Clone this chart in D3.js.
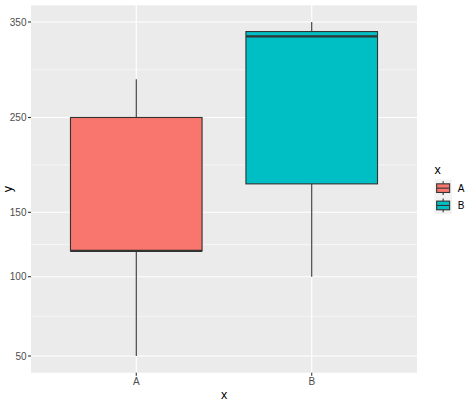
<!DOCTYPE html>
<html>
<head>
<meta charset="utf-8">
<script src="https://cdn.jsdelivr.net/npm/d3@7"></script>
<style>
  body { margin: 0; background: #fff; }
  svg { display: block; font-family: "Liberation Sans", Arial, Helvetica, sans-serif; }
</style>
</head>
<body>
<svg id="chart" width="474" height="404"></svg>
<script>
// ---- data ----
const categories = ["A", "B"];
const fills = ["#F8766D", "#00BFC4"];
const whiskerLow = [50, 100];
const hingeLow = [120, 180];
const medians = [120, 335];
const hingeHigh = [250, 340];
const whiskerHigh = [290, 350];
const yTickValues = [50, 100, 150, 250, 350];
const yTickLabels = ["50", "100", "150", "250", "350"];
// relative position of each tick value along the (transformed) axis
const yTickPositions = [0, 0.2374, 0.4302, 0.7141, 1];

// ---- layout ----
const W = 474, H = 404;
const panel = { left: 31, right: 417, top: 5.3, bottom: 372.7 };

const svg = d3.select("#chart");

// transform: value -> axis unit (piecewise), then axis unit -> pixel (with 5% expansion)
const trans = d3.scaleLinear().domain(yTickValues).range(yTickPositions);
const yPix = d3.scaleLinear().domain([-0.05, 1.05]).range([panel.bottom, panel.top]);
const y = v => yPix(trans(v));

// discrete expansion 0.6 of a unit
const xc = d3.scalePoint().domain(categories).range([panel.left, panel.right]).padding(0.6);
const step = xc.step();

// panel background
svg.append("rect").attr("x", panel.left).attr("y", panel.top)
  .attr("width", panel.right - panel.left).attr("height", panel.bottom - panel.top)
  .attr("fill", "#EBEBEB");

// minor gridlines (midpoints in transformed space)
const minorT = [];
for (let i = 0; i < yTickPositions.length - 1; i++) minorT.push((yTickPositions[i] + yTickPositions[i + 1]) / 2);
svg.append("g").selectAll("line").data(minorT).join("line")
  .attr("x1", panel.left).attr("x2", panel.right)
  .attr("y1", d => yPix(d)).attr("y2", d => yPix(d))
  .attr("stroke", "#fff").attr("stroke-width", 0.55);

// major gridlines
svg.append("g").selectAll("line").data(yTickValues).join("line")
  .attr("x1", panel.left).attr("x2", panel.right)
  .attr("y1", d => y(d)).attr("y2", d => y(d))
  .attr("stroke", "#fff").attr("stroke-width", 1.1);
svg.append("g").selectAll("line").data(categories).join("line")
  .attr("x1", d => xc(d)).attr("x2", d => xc(d))
  .attr("y1", panel.top).attr("y2", panel.bottom)
  .attr("stroke", "#fff").attr("stroke-width", 1.1);

// boxes
const boxW = step * 0.75;
const stroke = "#333333";
const g = svg.append("g");
categories.forEach((c, i) => {
  const cx = xc(c);
  g.append("line").attr("x1", cx).attr("x2", cx)
    .attr("y1", y(hingeHigh[i])).attr("y2", y(whiskerHigh[i]))
    .attr("stroke", stroke).attr("stroke-width", 1.1);
  g.append("line").attr("x1", cx).attr("x2", cx)
    .attr("y1", y(hingeLow[i])).attr("y2", y(whiskerLow[i]))
    .attr("stroke", stroke).attr("stroke-width", 1.1);
  g.append("rect").attr("x", cx - boxW / 2).attr("width", boxW)
    .attr("y", y(hingeHigh[i])).attr("height", y(hingeLow[i]) - y(hingeHigh[i]))
    .attr("fill", fills[i]).attr("stroke", stroke).attr("stroke-width", 1.1);
  g.append("line").attr("x1", cx - boxW / 2).attr("x2", cx + boxW / 2)
    .attr("y1", y(medians[i])).attr("y2", y(medians[i]))
    .attr("stroke", stroke).attr("stroke-width", 2.2);
});

// y axis
const tickCol = "#333333", labCol = "#4D4D4D";
const yAx = svg.append("g");
yTickValues.forEach((v, i) => {
  yAx.append("line").attr("x1", panel.left - 3).attr("x2", panel.left)
    .attr("y1", y(v)).attr("y2", y(v)).attr("stroke", tickCol).attr("stroke-width", 1.1);
  yAx.append("text").attr("x", panel.left - 4.5).attr("y", y(v))
    .attr("dy", "0.35em").attr("text-anchor", "end")
    .attr("font-size", 10).attr("fill", labCol).text(yTickLabels[i]);
});

// x axis
const xAx = svg.append("g");
categories.forEach(c => {
  xAx.append("line").attr("x1", xc(c)).attr("x2", xc(c))
    .attr("y1", panel.bottom).attr("y2", panel.bottom + 3)
    .attr("stroke", tickCol).attr("stroke-width", 1.1);
  xAx.append("text").attr("x", xc(c)).attr("y", panel.bottom + 4.5)
    .attr("dy", "0.8em").attr("text-anchor", "middle")
    .attr("font-size", 10).attr("fill", labCol).text(c);
});

// axis titles
svg.append("text").attr("x", (panel.left + panel.right) / 2).attr("y", 399)
  .attr("text-anchor", "middle").attr("font-size", 12.5).attr("fill", "#000").text("x");
svg.append("text").attr("transform", `translate(11.5,${(panel.top + panel.bottom) / 2}) rotate(-90)`)
  .attr("text-anchor", "middle").attr("font-size", 12.5).attr("fill", "#000").text("y");

// legend
const lg = svg.append("g").attr("transform", "translate(434.5,0)");
lg.append("text").attr("x", 0).attr("y", 174).attr("font-size", 12.5).attr("fill", "#000").text("x");
const key = 17.3, keyTop = 179.5;
categories.forEach((c, i) => {
  const ky = keyTop + i * key;
  const kg = lg.append("g").attr("transform", `translate(0,${ky})`);
  kg.append("rect").attr("width", key).attr("height", key).attr("fill", "#F2F2F2");
  kg.append("line").attr("x1", key / 2).attr("x2", key / 2).attr("y1", key * 0.1).attr("y2", key * 0.25)
    .attr("stroke", stroke).attr("stroke-width", 1.1);
  kg.append("line").attr("x1", key / 2).attr("x2", key / 2).attr("y1", key * 0.75).attr("y2", key * 0.9)
    .attr("stroke", stroke).attr("stroke-width", 1.1);
  kg.append("rect").attr("x", key * 0.125).attr("y", key * 0.25).attr("width", key * 0.75).attr("height", key * 0.5)
    .attr("fill", fills[i]).attr("stroke", stroke).attr("stroke-width", 1.1);
  kg.append("line").attr("x1", key * 0.125).attr("x2", key * 0.875).attr("y1", key / 2).attr("y2", key / 2)
    .attr("stroke", stroke).attr("stroke-width", 1.1);
  lg.append("text").attr("x", key + 6).attr("y", ky + key / 2).attr("dy", "0.35em")
    .attr("font-size", 10).attr("fill", "#000").text(c);
});
</script>
</body>
</html>
